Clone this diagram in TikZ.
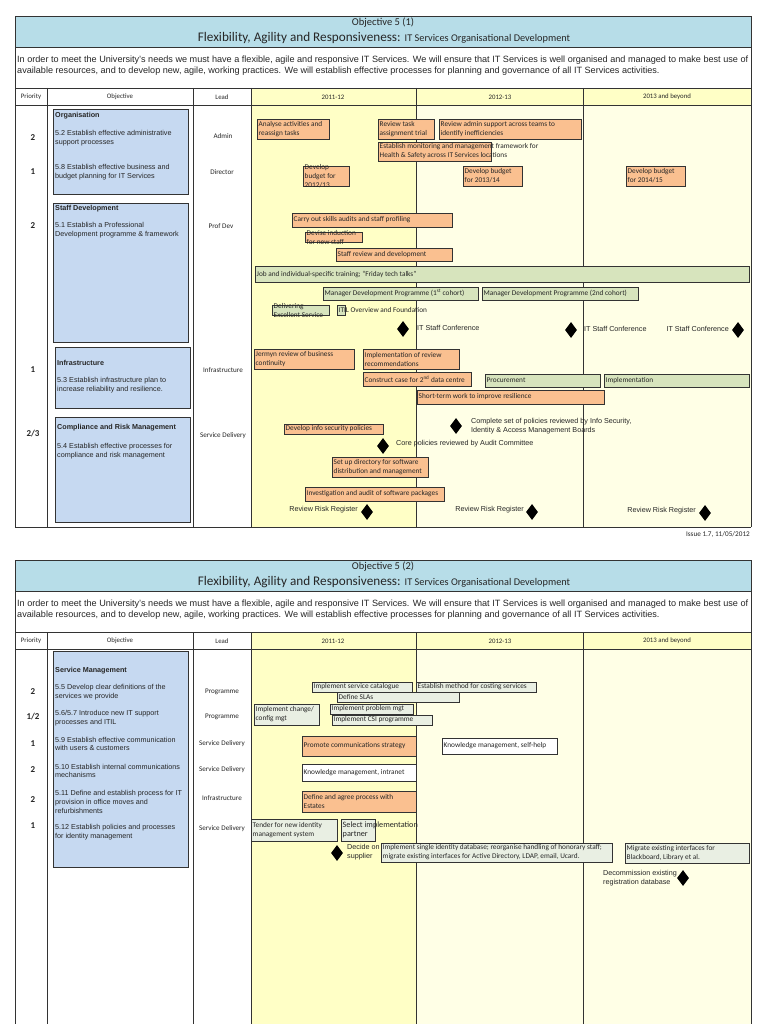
\documentclass[tikz,border=0pt]{standalone}
\usepackage{fontspec}
\setmainfont{Liberation Sans}
\newfontfamily\calfont{Carlito}
\usetikzlibrary{shapes.geometric}
\definecolor{hdrblue}{HTML}{B7DDE8}
\definecolor{objblue}{HTML}{C6D9F1}
\definecolor{orng}{HTML}{FAC090}
\definecolor{grn}{HTML}{D7E4BD}
\definecolor{pale}{HTML}{E9EFE3}
\definecolor{yel}{HTML}{FFFFC6}
\definecolor{yelpale}{HTML}{FFFFE6}
\definecolor{ink}{HTML}{262626}
\definecolor{frame}{HTML}{333333}
\tikzset{
  frm/.style={draw=frame, line width=0.9pt},
  bx/.style={draw=frame, line width=0.8pt, inner sep=0pt, outer sep=0pt},
  bo/.style={bx, fill=orng},
  bg/.style={bx, fill=grn},
  bp/.style={bx, fill=pale},
  bw/.style={bx, fill=white},
  objb/.style={draw=frame, fill=objblue, line width=1pt, inner sep=0pt, outer sep=0pt},
  gtext/.style={font=\calfont\fontsize{7.3}{9}\selectfont, inner sep=1.5pt, align=left, text=ink},
  ms/.style={diamond, fill=black, draw=none, inner sep=0pt, minimum width=12pt, minimum height=16pt},
  mtext/.style={font=\fontsize{7.2}{8.4}\selectfont, inner sep=0pt, align=left, text=ink},
  ohead/.style={font=\bfseries\fontsize{7.2}{8.7}\selectfont, inner sep=0pt, text=ink, anchor=west},
  otext/.style={font=\fontsize{7.2}{8.8}\selectfont, inner sep=0pt, align=left, text=ink, anchor=west},
  prio/.style={font=\calfont\bfseries\fontsize{9}{10}\selectfont, inner sep=0pt, text=ink},
  lead/.style={font=\calfont\fontsize{7.1}{8.5}\selectfont, inner sep=0pt, text=ink},
  colh/.style={font=\calfont\fontsize{6.8}{8}\selectfont, inner sep=0pt, text=ink},
}
% box without text
\newcommand\rbox[6]{%
  \node[#2, anchor=north west, minimum width={(#5-#3)*1pt}, minimum height={(#6-#4)*1pt}] (#1) at (#3,#4) {};}
% box with text
\newcommand\gb[7]{%
  \rbox{#1}{#2}{#3}{#4}{#5}{#6}
  \node[gtext, anchor=west] (#1t) at (#1.west) {#7};}
\newcommand\panelframe[3]{%
  \fill[hdrblue] (15,16) rectangle (751,47);
  \fill[yel] (251,88) rectangle (751,105);
  \fill[yel] (251,105) rectangle (416,#3);
  \fill[yelpale] (416,105) rectangle (751,#3);
  \draw[frm] (15,16) rectangle (751,47);
  \draw[frm] (15,47) -- (15,#3) (751,47) -- (751,#3);
  \draw[frm] (15,88) -- (751,88) (15,105) -- (751,105) (15,#3) -- (751,#3);
  \foreach \xx in {47,193,251,416,583} {\draw[frm] (\xx,88) -- (\xx,#3);}
  \node[font=\calfont\fontsize{10.5}{12}\selectfont, text=ink, inner sep=0pt] (#1t1) at (383,23) {Objective 5 (#2)};
  \node[font=\calfont\fontsize{13.2}{15}\selectfont, text=ink, inner sep=0pt] (#1t2) at (384,38) {Flexibility, Agility and Responsiveness: {\fontsize{10.3}{12}\selectfont IT Services Organisational Development}};
  \node[anchor=north west, text width=731pt, align=justify, inner sep=0pt, text=ink, font=\fontsize{9.1}{11.5}\selectfont] (#1par) at (17,55.5) {In order to meet the University's needs we must have a flexible, agile and responsive IT Services. We will ensure that IT Services is well organised and managed to make best use of\linebreak available resources, and to develop new, agile, working practices. We will establish effective processes for planning and governance of all IT Services activities.};
  \node[colh] (#1h1) at (31,97) {Priority};
  \node[colh] (#1h2) at (120,97) {Objective};
  \node[colh] (#1h3) at (222,97) {Lead};
  \node[colh] (#1h4) at (333,97) {2011-12};
  \node[colh] (#1h5) at (500,97) {2012-13};
  \node[colh] (#1h6) at (667,97) {2013 and beyond};
}
\begin{document}
\begin{tikzpicture}[x=1pt,y=-1pt]
\useasboundingbox (0,0) rectangle (768,1024);
\fill[white] (0,0) rectangle (768,1024);

% ================= PANEL 1 =================
\panelframe{pa}{1}{527}

\rbox{ob1}{objb}{53}{110}{188}{195}
\rbox{ob2}{objb}{53}{204}{188}{342}
\rbox{ob3}{objb}{55}{347}{190}{408}
\rbox{ob4}{objb}{55}{417}{190}{522}
\node[ohead] (oh1) at (55,116) {Organisation};
\node[otext] (o52) at (55,138) {5.2 Establish effective administrative\\support processes};
\node[otext] (o58) at (55,172) {5.8 Establish effective business and\\budget planning for IT Services};
\node[ohead] (oh2) at (55,209) {Staff Development};
\node[otext] (o51) at (55,230) {5.1 Establish a Professional\\Development programme \& framework};
\node[ohead] (oh3) at (57,363) {Infrastructure};
\node[otext] (o53) at (57,385) {5.3 Establish infrastructure plan to\\increase reliability and resilience.};
\node[ohead] (oh4) at (57,428) {Compliance and Risk Management};
\node[otext] (o54) at (57,451) {5.4 Establish effective processes for\\compliance and risk management};

\node[prio] (p1) at (33,138) {2};
\node[prio] (p2) at (33,172) {1};
\node[prio] (p3) at (33,226) {2};
\node[prio] (p4) at (33,370) {1};
\node[prio] (p5) at (33,434) {2/3};
\node[lead] (l1) at (223,136) {Admin};
\node[lead] (l2) at (222,172) {Director};
\node[lead] (l3) at (221,226) {Prof Dev};
\node[lead] (l4) at (223,370) {Infrastructure};
\node[lead] (l5) at (223,436) {Service Delivery};

\gb{a1}{bo}{257}{119}{329}{139}{Analyse activities and\\reassign tasks}
\gb{a2}{bo}{378}{119}{434}{139}{Review task\\assignment trial}
\gb{a3}{bo}{439}{119}{581}{139}{Review admin support across teams to\\identify inefficiencies}
\gb{a4}{bo}{378}{142}{491}{161}{Establish monitoring and management framework for\\Health \& Safety across IT Services locations}
\gb{a5}{bo}{303}{166}{349}{186}{Develop\\budget for\\2012/13}
\gb{a6}{bo}{463}{166}{522}{186}{Develop budget\\for 2013/14}
\gb{a7}{bo}{626}{166}{685}{186}{Develop budget\\for 2014/15}
\gb{a8}{bo}{292}{213}{452}{227}{Carry out skills audits and staff profiling}
\gb{a9}{bo}{305}{232}{362}{242}{Devise induction\\for new staff}
\gb{a10}{bo}{336}{248}{452}{261}{Staff review and development}
\gb{a11}{bg}{255}{266}{749}{282}{Job and individual-specific training; “Friday tech talks”}
\gb{a12}{bg}{323}{287}{478}{300}{Manager Development Programme (1\textsuperscript{st} cohort)}
\gb{a13}{bg}{482}{287}{638}{300}{Manager Development Programme (2nd cohort)}
\gb{a14}{bg}{272}{305}{329}{315}{Delivering\\Excellent Service}
\gb{a15}{bg}{337}{305}{345}{315}{ITIL Overview and Foundation}

\node[ms] (m1) at (403,329) {};
\node[mtext, anchor=west] (m1t) at (417,328) {IT Staff Conference};
\node[ms] (m2) at (571,330) {};
\node[mtext, anchor=west] (m2t) at (584,329) {IT Staff Conference};
\node[ms] (m3) at (738,330) {};
\node[mtext, anchor=east] (m3t) at (729,329) {IT Staff Conference};

\gb{a16}{bo}{254}{349}{354}{369}{Jermyn review of business\\continuity}
\gb{a17}{bo}{363}{349}{459}{369}{Implementation of review\\recommendations}
\gb{a18}{bo}{363}{372}{471}{386}{Construct case for 2\textsuperscript{nd} data centre}
\gb{a19}{bg}{485}{374}{600}{387}{Procurement}
\gb{a20}{bg}{604}{374}{749}{387}{Implementation}
\gb{a21}{bo}{417}{390}{604}{404}{Short-term work to improve resilience}

\node[ms] (m4) at (456,426) {};
\node[mtext, anchor=west] (m4t) at (471,426) {Complete set of policies reviewed by Info Security,\\Identity \& Access Management Boards};
\gb{a22}{bo}{284}{424}{383}{434}{Develop info security policies}
\node[ms] (m5) at (383,446) {};
\node[mtext, anchor=west] (m5t) at (396,444) {Core policies reviewed by Audit Committee};
\gb{a23}{bo}{332}{457}{428}{477}{Set up directory for software\\distribution and management}
\gb{a24}{bo}{305}{487}{444}{501}{Investigation and audit of software packages}

\node[ms] (m6) at (367,512) {};
\node[mtext, anchor=east] (m6t) at (358,510) {Review Risk Register};
\node[ms] (m7) at (532,512) {};
\node[mtext, anchor=east] (m7t) at (524,510) {Review Risk Register};
\node[ms] (m8) at (705,513) {};
\node[mtext, anchor=east] (m8t) at (696,511) {Review Risk Register};

\node[font=\calfont\fontsize{7.2}{8}\selectfont, text=ink, inner sep=0pt, anchor=east] (issue) at (750,534) {Issue 1.7, 11/05/2012};

% ================= PANEL 2 =================
\begin{scope}[shift={(0,544)}]
\panelframe{pb}{2}{495}
\end{scope}

\rbox{ob5}{objb}{53}{651}{188}{867}
\node[ohead] (oh5) at (55,671) {Service Management};
\node[otext] (o55) at (55,692) {5.5 Develop clear definitions of the\\services we provide};
\node[otext] (o56) at (55,718) {5.6/5.7 Introduce new IT support\\processes and ITIL};
\node[otext] (o59) at (55,744) {5.9 Establish effective communication\\with users \& customers};
\node[otext] (o510) at (55,771) {5.10 Establish internal communications\\mechanisms};
\node[otext] (o511) at (55,802) {5.11 Define and establish process for IT\\provision in office moves and\\refurbishments};
\node[otext] (o512) at (55,832) {5.12 Establish policies and processes\\for identity management};

\node[prio] (q1) at (33,692) {2};
\node[prio] (q2) at (33,717) {1/2};
\node[prio] (q3) at (33,744) {1};
\node[prio] (q4) at (33,770) {2};
\node[prio] (q5) at (33,800) {2};
\node[prio] (q6) at (33,826) {1};
\node[lead] (k1) at (222,692) {Programme};
\node[lead] (k2) at (222,717) {Programme};
\node[lead] (k3) at (222,744) {Service Delivery};
\node[lead] (k4) at (222,770) {Service Delivery};
\node[lead] (k5) at (222,798) {Infrastructure};
\node[lead] (k6) at (222,829) {Service Delivery};

\gb{b1}{bp}{312}{682}{412}{692}{Implement service catalogue}
\gb{b2}{bp}{416}{682}{536}{692}{Establish method for costing services}
\gb{b3}{bp}{337}{692}{459}{702}{Define SLAs}
\gb{b4}{bp}{254}{704}{319}{725}{Implement change/\\config mgt}
\gb{b5}{bp}{330}{704}{413}{714}{Implement problem mgt}
\gb{b6}{bp}{332}{715}{432}{725}{Implement CSI programme}
\gb{b7}{bo}{302}{736}{416}{756}{Promote communications strategy}
\gb{b8}{bw}{442}{738}{557}{754}{Knowledge management, self-help}
\gb{b9}{bw}{302}{764}{416}{781}{Knowledge management, intranet}
\gb{b10}{bo}{302}{791}{416}{812}{Define and agree process with\\Estates}
\gb{b11}{bp}{251}{819}{337}{841}{Tender for new identity\\management system}
\gb{b12}{bp}{341}{819}{375}{841}{{\fontsize{8.2}{10}\selectfont Select implementation}\\{\fontsize{8.2}{10}\selectfont partner}}
\node[ms] (m9) at (337,853) {};
\node[mtext, anchor=west] (m9t) at (347,852) {Decide on\\supplier};
\gb{b13}{bp}{381}{843}{612}{862}{Implement single identity database; reorganise handling of honorary staff;\\migrate existing interfaces for Active Directory, LDAP, email, Ucard.}
\gb{b14}{bp}{625}{843}{749}{863}{Migrate existing interfaces for\\Blackboard, Library et al.}
\node[ms] (m10) at (683,878) {};
\node[mtext, anchor=east] (m10t) at (677,878) {Decommission existing\\registration database};
\end{tikzpicture}
\end{document}
